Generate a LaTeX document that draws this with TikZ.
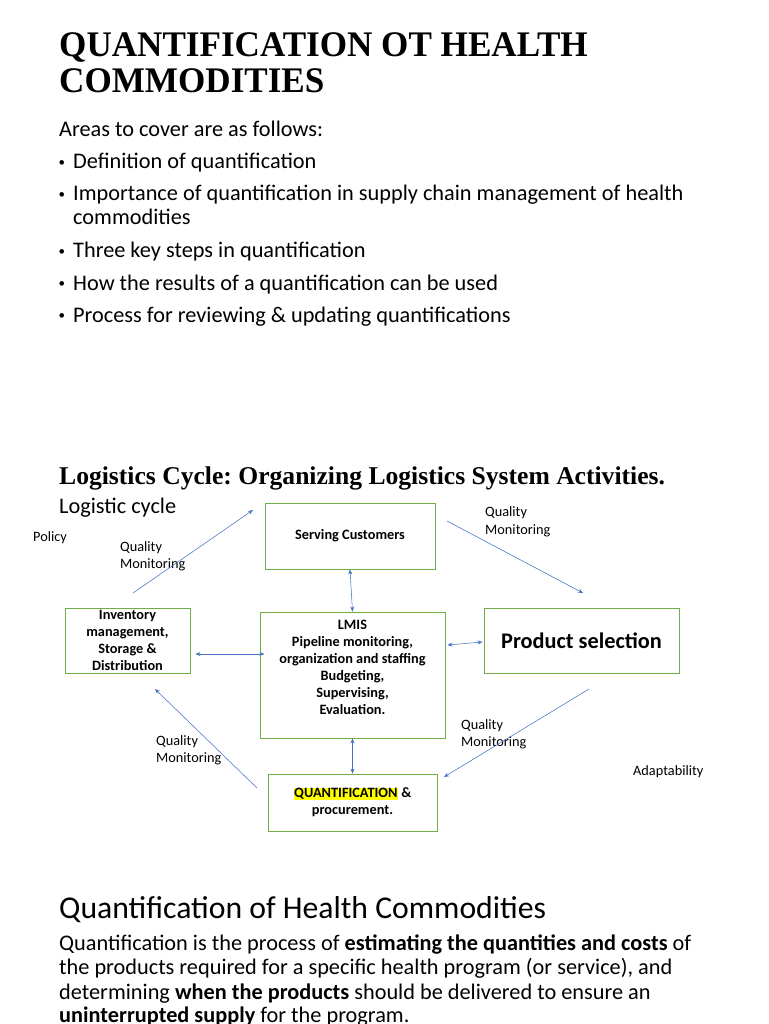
\documentclass[tikz,border=0pt]{standalone}
\usepackage{fontspec}
\setmainfont{Carlito}
\newfontfamily\headserif{Liberation Serif}[FakeStretch=0.975]
\newfontfamily\plainserif{Liberation Serif}
\definecolor{boxgreen}{RGB}{112,173,71}
\definecolor{linkblue}{RGB}{68,114,196}
\definecolor{marker}{RGB}{255,255,0}
\usetikzlibrary{arrows.meta,positioning}
\newcommand{\pxfont}[2]{\fontsize{#1}{#2}\selectfont}
\newcommand{\blt}{\llap{\raisebox{2.5pt}{\pxfont{13}{13}•}\hspace{8pt}}}
\frenchspacing

\begin{document}
\begin{tikzpicture}[x=1pt, y=-1pt,
  box/.style={draw=boxgreen, line width=0.9pt, align=center, inner sep=2pt, font=\pxfont{14.3}{17}\bfseries},
  arr/.style={-{Stealth[length=5pt,width=4pt]}, draw=linkblue, line width=0.55pt},
  dblarr/.style={{Stealth[length=5pt,width=4pt]}-{Stealth[length=5pt,width=4pt]}, draw=linkblue, line width=0.55pt},
  note/.style={anchor=west, align=left, inner sep=0pt, font=\pxfont{14.3}{17.5}},
  body/.style={anchor=base west, inner sep=0pt, font=\pxfont{22.3}{24}},
  headline/.style={anchor=base west, inner sep=0pt, font=\headserif\bfseries\pxfont{36}{36}}
]
  \useasboundingbox (0,0) rectangle (768,1024);
  \clip (0,0) rectangle (768,1024);

  % slide header and list
  \node[headline] (title1) at (59,57) {QUANTIFICATION OT HEALTH};
  \node[headline] (title2) at (59,93) {COMMODITIES};
  \node[body] (areas) at (59,137) {Areas to cover are as follows:};
  \node[body] (it1) at (73,169) {\blt Definition of quantification};
  \node[body] (it2) at (73,201) {\blt Importance of quantification in supply chain management of health};
  \node[body] (it2b) at (73,225) {commodities};
  \node[body] (it3) at (73,258) {\blt Three key steps in quantification};
  \node[body] (it4) at (73,290) {\blt How the results of a quantification can be used};
  \node[body] (it5) at (73,322) {\blt Process for reviewing \& updating quantifications};

  % logistics cycle
  \node[anchor=base west, inner sep=0pt, font=\plainserif\bfseries\pxfont{25.6}{26}] (cycletitle) at (59,484) {Logistics Cycle: Organizing Logistics System Activities.};
  \node[body] (cyclesub) at (59,513) {Logistic cycle};

  \node[box, minimum width=170pt, minimum height=66pt] (serve) at (350,536) {Serving Customers};
  \node[box, minimum width=185pt, minimum height=126pt] (lmis) at (352.5,675) {};
  \node[align=center, inner sep=0pt, font=\pxfont{14.3}{17}\bfseries] (lmistext) at (352.5,667) {LMIS\\Pipeline monitoring,\\organization and staffing\\Budgeting,\\Supervising,\\Evaluation.};
  \node[box, minimum width=195pt, minimum height=65pt, font=\pxfont{22.3}{24}\bfseries] (prod) at (581.5,640.5) {Product selection};
  \node[box, minimum width=125pt, minimum height=65pt] (inv) at (127.5,640.5) {Inventory\\management,\\Storage \&\\Distribution};
  \node[box, minimum width=169pt, minimum height=57pt] (quant) at (352.5,802.5) {{\setlength{\fboxsep}{0.6pt}\colorbox{marker}{QUANTIFICATION}} \&\\procurement.};

  \node[note] (policy) at (33,538) {Policy};
  \node[note] (qm1) at (120,556.5) {Quality\\Monitoring};
  \node[note] (qm2) at (485,522) {Quality\\Monitoring};
  \node[note] (qm3) at (461,734.5) {Quality\\Monitoring};
  \node[note] (qm4) at (156,750.5) {Quality\\Monitoring};
  \node[note] (adapt) at (633,772) {Adaptability};

  \coordinate (a1s) at (133,593);
  \coordinate (a1e) at (253,510);
  \coordinate (a2s) at (447,521);
  \coordinate (a2e) at (583,593);
  \coordinate (a3s) at (589,689);
  \coordinate (a3e) at (444,777);
  \coordinate (a4s) at (257,788);
  \coordinate (a4e) at (155,689);

  \draw[arr] (a1s) -- (a1e);
  \draw[arr] (a2s) -- (a2e);
  \draw[arr] (a3s) -- (a3e);
  \draw[arr] (a4s) -- (a4e);

  \draw[dblarr] (serve.south) -- (lmis.north);
  \draw[dblarr] (lmis.south) -- (quant.north);
  \draw[dblarr] ([xshift=5pt,yshift=-13.5pt]inv.east) -- ([xshift=5pt,yshift=21pt]lmis.west);
  \draw[dblarr] ([xshift=2pt,yshift=30pt]lmis.east) -- ([xshift=-1pt,yshift=-1.5pt]prod.west);

  % definition
  \node[anchor=base west, inner sep=0pt, font=\pxfont{31.7}{32}] (defhead) at (59,918) {Quantification of Health Commodities};
  \node[body] (def1) at (59,950) {Quantification is the process of \textbf{estimating the quantities and costs} of};
  \node[body] (def2) at (59,974.5) {the products required for a specific health program (or service), and};
  \node[body] (def3) at (59,999) {determining \textbf{when the products} should be delivered to ensure an};
  \node[body] (def4) at (59,1022) {\textbf{uninterrupted supply} for the program.};
\end{tikzpicture}
\end{document}
